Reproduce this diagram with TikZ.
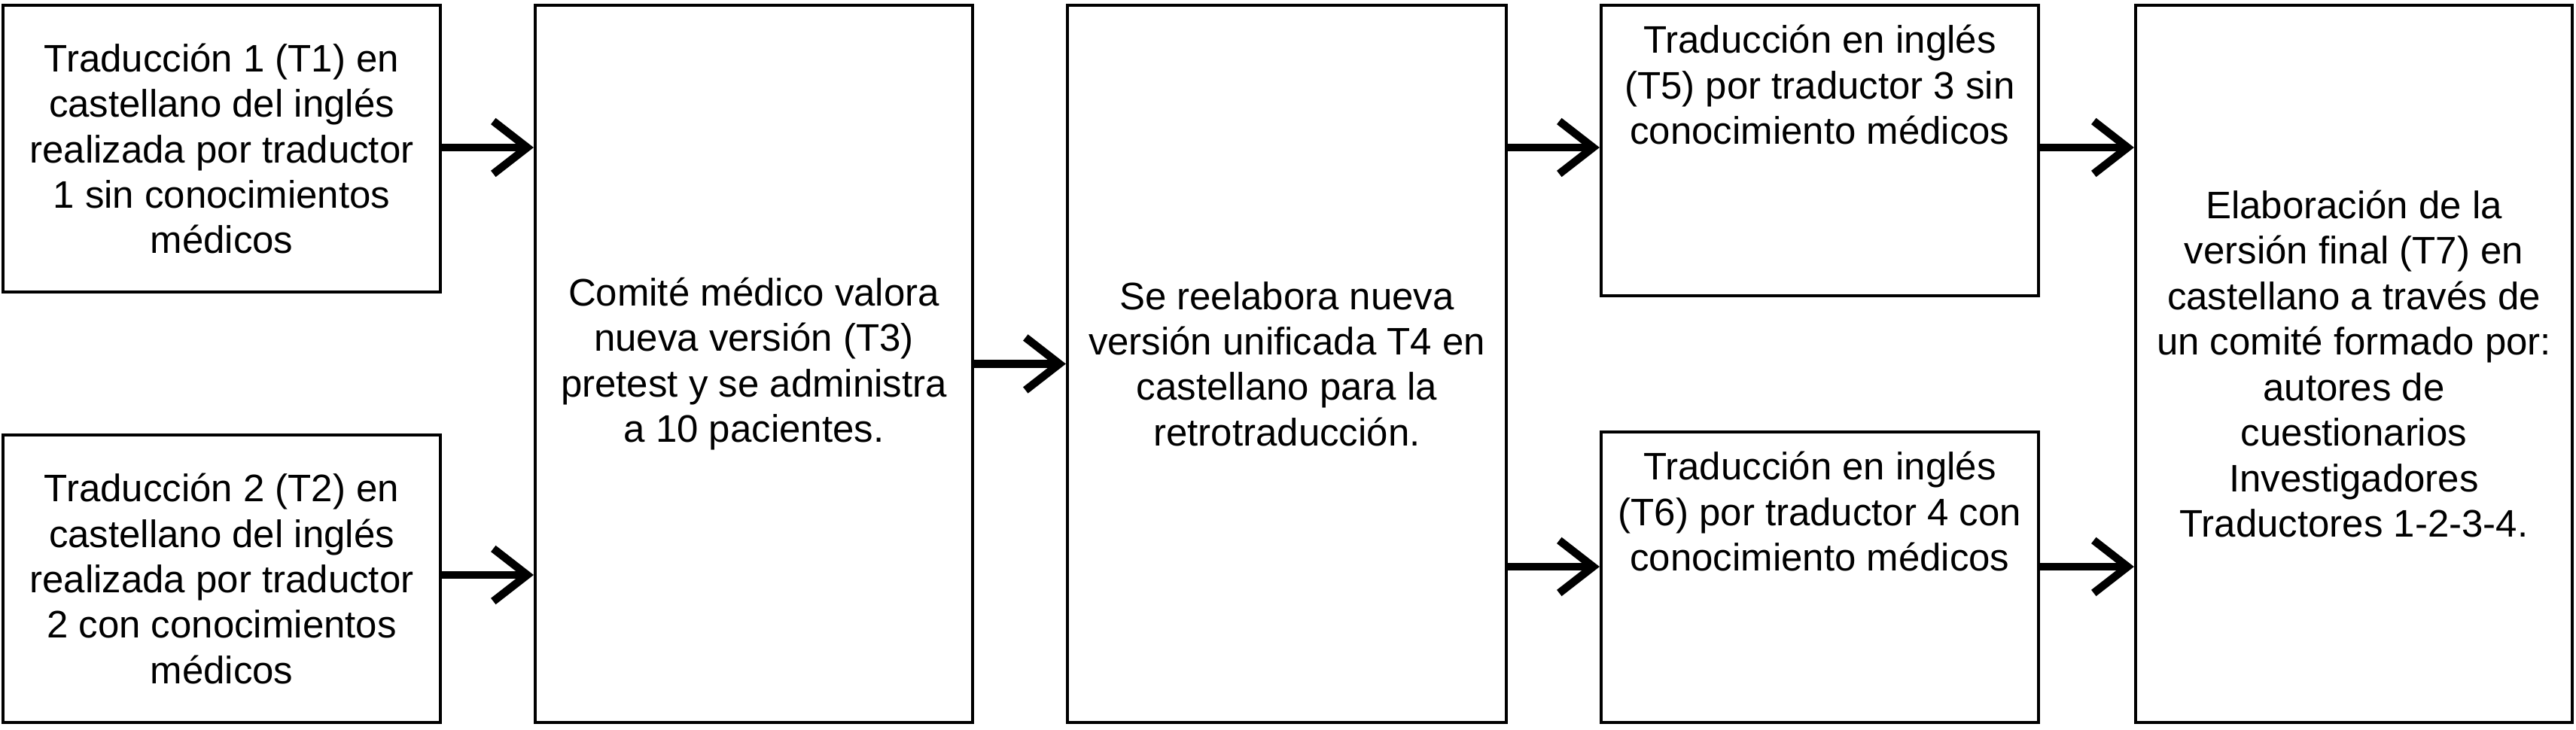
\documentclass[tikz,border=0pt]{standalone}
\usepackage{fontspec}
\setmainfont{Liberation Sans}
\usetikzlibrary{arrows.meta}

\tikzset{
  stepbox/.style={draw=black, line width=1.2pt, align=center,
    inner sep=0pt, font=\fontsize{14.5}{17.2}\selectfont},
  flow/.style={line width=3pt, -{Straight Barb[length=4.5mm,width=7mm]}}
}

\begin{document}
\begin{tikzpicture}
    \useasboundingbox (0,0) rectangle (34.22,9.7);

    % first column
    \node [stepbox, minimum width=5.81cm, minimum height=3.81cm] (t1) at (2.945,7.725)
      {Traducción 1 (T1) en\\ castellano del inglés\\ realizada por traductor\\ 1 sin conocimientos\\ médicos};
    \node [stepbox, minimum width=5.81cm, minimum height=3.82cm] (t2) at (2.945,2.01)
      {Traducción 2 (T2) en\\ castellano del inglés\\ realizada por traductor\\ 2 con conocimientos\\ médicos};

    % middle
    \node [stepbox, minimum width=5.81cm, minimum height=9.53cm] (t3) at (10.015,4.865)
      {Comité médico valora\\ nueva versión (T3)\\ pretest y se administra\\ a 10 pacientes.};
    \node [stepbox, minimum width=5.83cm, minimum height=9.53cm] (t4) at (17.095,4.865)
      {Se reelabora nueva\\ versión unificada T4 en\\ castellano para la\\ retrotraducción.};

    % back translations
    \node [stepbox, minimum width=5.81cm, minimum height=3.86cm, text depth=1.75cm] (t5) at (24.175,7.70)
      {Traducción en inglés\\ (T5) por traductor 3 sin\\ conocimiento médicos};
    \node [stepbox, minimum width=5.81cm, minimum height=3.86cm, text depth=1.75cm] (t6) at (24.175,2.03)
      {Traducción en inglés\\ (T6) por traductor 4 con\\ conocimiento médicos};

    % final
    \node [stepbox, minimum width=5.80cm, minimum height=9.53cm] (t7) at (31.27,4.865)
      {Elaboración de la\\ versión final (T7) en\\ castellano a través de\\ un comité formado por:\\ autores de\\ cuestionarios\\ Investigadores\\ Traductores 1-2-3-4.};

    \draw [flow] (t1.east |- 0,7.74) -- (t3.west |- 0,7.74);
    \draw [flow] (t2.east |- 0,2.06) -- (t3.west |- 0,2.06);
    \draw [flow] (t3.east) -- (t4.west);
    \draw [flow] (t4.east |- 0,7.74) -- (t5.west |- 0,7.74);
    \draw [flow] (t4.east |- 0,2.17) -- (t6.west |- 0,2.17);
    \draw [flow] (t5.east |- 0,7.74) -- (t7.west |- 0,7.74);
    \draw [flow] (t6.east |- 0,2.17) -- (t7.west |- 0,2.17);
\end{tikzpicture}
\end{document}
